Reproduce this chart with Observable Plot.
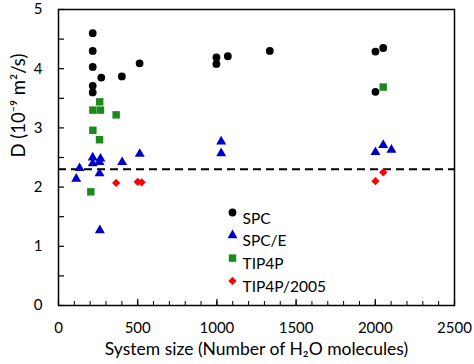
<!DOCTYPE html>
<html>
<head>
<meta charset="utf-8">
<script src="https://cdn.jsdelivr.net/npm/d3@7"></script>
<script src="https://cdn.jsdelivr.net/npm/@observablehq/plot@0.6"></script>
<style>
  html, body { margin: 0; padding: 0; background: #fff; }
  #chart svg { display: block; }
</style>
</head>
<body>
<div id="chart"></div>
<script>
// Data
const spcX = [216, 216, 216, 216, 216, 270, 400, 512, 997, 997, 1069, 1334, 2001, 2050, 2001];
const spcY = [4.60, 4.30, 4.03, 3.71, 3.60, 3.85, 3.87, 4.09, 4.19, 4.08, 4.21, 4.30, 4.29, 4.35, 3.61];

const spceX = [112, 133, 216, 216, 259, 265, 259, 261, 402, 513, 1027, 1027, 2001, 2050, 2102];
const spceY = [2.14, 2.32, 2.50, 2.40, 2.42, 2.48, 2.23, 1.27, 2.42, 2.56, 2.77, 2.57, 2.59, 2.71, 2.63];

const tip4pX = [204, 217, 217, 259, 260, 265, 364, 2050];
const tip4pY = [1.92, 2.96, 3.30, 2.80, 3.44, 3.30, 3.22, 3.69];

const tip2005X = [364, 500, 525, 2001, 2050];
const tip2005Y = [2.07, 2.09, 2.08, 2.10, 2.25];

const seriesNames = ["SPC", "SPC/E", "TIP4P", "TIP4P/2005"];
const referenceD = [2.3];
const xTicks = [0, 500, 1000, 1500, 2000, 2500];
const yTicks = [0, 1, 2, 3, 4, 5];
const xMinorTicks = d3.range(0, 2501, 100);
const yMinorTicks = d3.range(0, 5.01, 0.5);

const styles = [
  {symbol: "circle", fill: "#000000", r: 3.9},
  {symbol: "triangle", fill: "#0000cc", r: 3.7},
  {symbol: "square", fill: "#1b8a1b", r: 4.2},
  {symbol: "diamond2", fill: "#ff0000", r: 3.7}
];
const xs = [spcX, spceX, tip4pX, tip2005X];
const ys = [spcY, spceY, tip4pY, tip2005Y];

const W = 474, H = 364;
const mL = 58, mR = 20, mT = 9, mB = 59;
const fw = W - mL - mR, fh = H - mT - mB;

const marks = [];
marks.push(Plot.ruleY(referenceD, {stroke: "black", strokeWidth: 2, strokeDasharray: "8,5"}));
// inward ticks
marks.push(Plot.tickX(xMinorTicks, {x: d => d, insetTop: fh - 4, stroke: "black", strokeWidth: 1}));
marks.push(Plot.tickX(xTicks, {x: d => d, insetTop: fh - 6, stroke: "black", strokeWidth: 1.2}));
marks.push(Plot.tickY(yMinorTicks, {y: d => d, insetRight: fw - 6, stroke: "black", strokeWidth: 1.2}));

seriesNames.forEach((name, i) => {
  const data = xs[i].map((x, j) => ({x, y: ys[i][j], s: name}));
  marks.push(Plot.dot(data, {x: "x", y: "y", symbol: () => styles[i].symbol, fill: styles[i].fill, stroke: "none", r: styles[i].r}));
});
// legend
seriesNames.forEach((name, i) => {
  marks.push(Plot.dot([name], {frameAnchor: "top-left", dx: 174, dy: 203 + i * 22.8, symbol: () => styles[i].symbol, fill: styles[i].fill, r: styles[i].r}));
  marks.push(Plot.text([name], {text: d => d, frameAnchor: "top-left", dx: 184, dy: 203 + i * 22.8, textAnchor: "start", fontSize: 15.5, fill: "black"}));
});
marks.push(Plot.frame({stroke: "black", strokeWidth: 1.5}));
marks.push(Plot.axisX(xTicks, {tickSize: 0, tickPadding: 17, fontSize: 15, label: null, tickFormat: d => String(d)}));
marks.push(Plot.axisY(yTicks, {tickSize: 0, tickPadding: 16, fontSize: 15, label: null, tickFormat: d => String(d)}));
marks.push(Plot.text(["System size (Number of H₂O molecules)"], {frameAnchor: "bottom", dy: 49, fontSize: 17.5, fill: "black", text: d => d}));
marks.push(Plot.text(["D (10⁻⁹ m²/s)"], {frameAnchor: "left", dx: -39, rotate: -90, fontSize: 18.5, fill: "black", text: d => d}));

const chart = Plot.plot({
  width: W, height: H,
  marginLeft: mL, marginRight: mR, marginTop: mT, marginBottom: mB,
  style: {fontFamily: "Lato, 'Open Sans', sans-serif", color: "black", background: "white", overflow: "visible"},
  x: {domain: [0, 2500]},
  y: {domain: [0, 5]},
  marks
});
document.getElementById("chart").appendChild(chart);
</script>
</body>
</html>
